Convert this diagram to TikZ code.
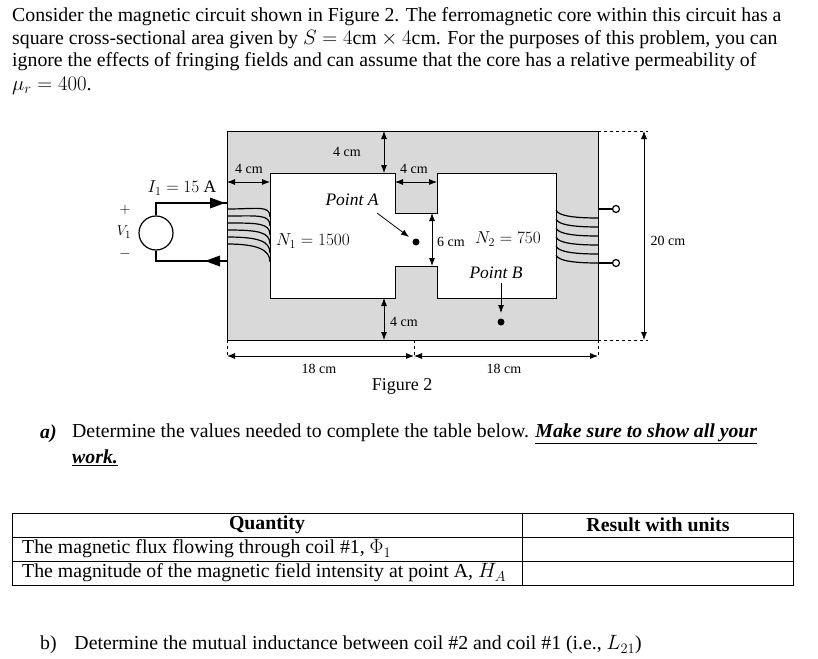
\documentclass[tikz,border=0pt]{standalone}
\usepackage{fontspec}
\setmainfont{Liberation Serif}
\usetikzlibrary{arrows.meta}
\begin{document}
\begin{tikzpicture}[x=1pt,y=-1pt,
  txt/.style={anchor=west,inner sep=0pt,font=\fontsize{19.8}{22}\selectfont},
  dim/.style={inner sep=1pt,font=\fontsize{14}{15}\selectfont},
  lab/.style={inner sep=1pt,font=\fontsize{17.5}{18}\selectfont},
  dimarr/.style={{Latex[length=8pt,width=6pt]}-{Latex[length=8pt,width=6pt]},thick},
  ptarr/.style={-{Latex[length=8pt,width=6pt]},thick}]
\useasboundingbox (0,0) rectangle (818,658);
% text
\node[txt] (t1) at (12,17) {Consider the magnetic circuit shown in Figure 2. The ferromagnetic core within this circuit has a};
\node[txt] (t2) at (12,40) {square cross-sectional area given by $S=4\mathrm{cm}\times4\mathrm{cm}$. For the purposes of this problem, you can};
\node[txt] (t3) at (12,62) {ignore the effects of fringing fields and can assume that the core has a relative permeability of};
\node[txt] (t4) at (12,86) {$\mu_r=400$.};
% core
\fill[gray!30,even odd rule,draw=black,thick] (227,131) rectangle (598,340)
  (270,173) -- (395,173) -- (395,213) -- (437,213) -- (437,173) -- (556,173) -- (556,298) -- (437,298) -- (437,266) -- (395,266) -- (395,298) -- (270,298) -- cycle;
% source
\node[circle,draw,very thick,minimum size=34pt,inner sep=0pt] (src) at (156,233) {};
\draw[very thick] (src.north) -- (156,203) -- (227,203);
\draw[very thick] (src.south) -- (156,261) -- (227,261);
\fill (225,203) -- (210,197.5) -- (210,208.5) -- cycle;
\fill (205,261) -- (220,255.5) -- (220,266.5) -- cycle;
\node[dim,font=\fontsize{15}{16}\selectfont] (plus) at (125,210) {$+$};
\node[dim,font=\fontsize{15}{16}\selectfont] (v1) at (124,232) {$V_1$};
\node[dim,font=\fontsize{15}{16}\selectfont] (minus) at (125,254) {$-$};
\node[lab] (i1) at (182,188) {$I_1=15$ A};
% left coil
\foreach \i in {0,...,5}{
  \pgfmathsetmacro{\ya}{209+7*\i}\pgfmathsetmacro{\yb}{217+9*\i}
  \draw[very thick] (227,\ya) .. controls (258,\ya) and (270,\yb-12) .. (270,\yb);}
% right coil
\foreach \i in {0,...,5}{
  \pgfmathsetmacro{\ya}{210+9*\i}\pgfmathsetmacro{\yb}{218+9*\i}
  \draw[very thick] (556,\ya) .. controls (558,\ya+6) and (575,\yb) .. (598,\yb);}
\node[circle,draw,very thick,inner sep=0pt,minimum size=7pt] (ta) at (616,209) {};
\node[circle,draw,very thick,inner sep=0pt,minimum size=7pt] (tb) at (616,263) {};
\draw[very thick] (598,209) -- (ta.west);
\draw[very thick] (598,263) -- (tb.west);
% labels
\node[lab] (n1) at (313,241) {$N_1=1500$};
\node[lab] (n2) at (508,239) {$N_2=750$};
\node[lab] (pa) at (352,200) {\itshape Point A};
\node[lab] (pb) at (496,273) {\itshape Point B};
\fill (416,242) circle (3.5pt) coordinate (dotA);
\fill (501,322) circle (3.5pt) coordinate (dotB);
\draw[ptarr] (377,213) -- (409,237);
\draw[ptarr] (501,283) -- (501,313);
% dims
\draw[dimarr] (384,131) -- (384,173);
\node[dim] (d1) at (347,152) {4 cm};
\draw[dimarr] (227,182) -- (270,182);
\node[dim] (d2) at (249,169) {4 cm};
\draw[dimarr] (395,182) -- (437,182);
\node[dim] (d3) at (414,169) {4 cm};
\draw[dimarr] (432,213) -- (432,266);
\node[dim] (d4) at (451,242) {6 cm};
\draw[dimarr] (384,298) -- (384,340);
\node[dim] (d5) at (404,322) {4 cm};
\draw[dashed] (227,340) -- (227,358) (414,340) -- (414,358) (598,340) -- (598,358);
\draw[dimarr] (227,356) -- (414,356);
\draw[dimarr] (414,356) -- (598,356);
\node[dim] (d6) at (319,369) {18 cm};
\node[dim] (d7) at (504,369) {18 cm};
\draw[thick,dashed] (598,131) -- (648,131) (598,340) -- (648,340);
\draw[dimarr] (644,131) -- (644,340);
\node[dim] (d8) at (668,241) {20 cm};
\node[inner sep=0pt,font=\fontsize{18}{20}\selectfont] (fig) at (402,386) {Figure 2};
% part a
\node[txt,font=\fontsize{19.8}{22}\selectfont\bfseries\itshape] (pa1) at (40,434) {a)};
\node[txt] (pa2) at (72,434) {Determine the values needed to complete the table below. \textbf{\itshape\underline{Make sure to show all your}}};
\node[txt,font=\fontsize{19.8}{22}\selectfont\bfseries\itshape] (pa3) at (72,458) {\underline{work.}};
% table
\draw (12,513) rectangle (793,585);
\draw (12,537) -- (793,537) (12,561) -- (793,561) (522,513) -- (522,585);
\node[inner sep=0pt,font=\fontsize{19.8}{22}\selectfont\bfseries] (h1) at (267,525) {Quantity};
\node[inner sep=0pt,font=\fontsize{19.8}{22}\selectfont\bfseries] (h2) at (658,525) {Result with units};
\node[txt] (r1) at (22,549) {The magnetic flux flowing through coil \#1, $\Phi_1$};
\node[txt] (r2) at (22,573) {The magnitude of the magnetic field intensity at point A, $H_A$};
% part b
\node[txt] (pb1) at (40,645) {b)\hspace{0.9em}Determine the mutual inductance between coil \#2 and coil \#1 (i.e., $L_{21}$)};
\end{tikzpicture}
\end{document}
